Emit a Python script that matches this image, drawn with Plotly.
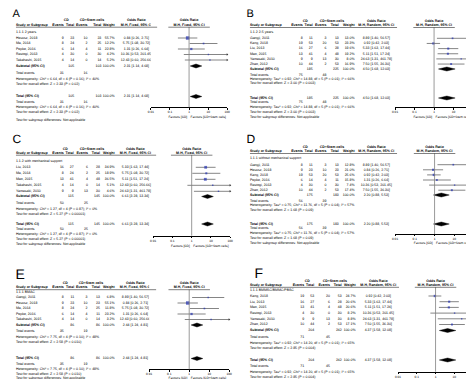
import plotly.graph_objects as go

FIG_W, FIG_H = 474, 379

# ---------------- data ----------------
# Panel A
studies_A = ["Heuvsz, 2018", "Ma, 2014", "Pepke, 2016", "Rastogi, 2013", "Takahashi, 2015"]
ev_cd_A = [9, 8, 6, 4, 4]
tot_cd_A = [23, 24, 14, 30, 14]
ev_st_A = [10, 2, 4, 0, 0]
tot_st_A = [23, 25, 11, 30, 14]
weight_A = [55.7, 12.2, 22.8, 4.2, 5.2]
or_A = [0.84, 5.75, 1.31, 10.36, 12.43]
lo_A = [0.26, 1.08, 0.26, 0.53, 0.60]
hi_A = [2.71, 30.72, 6.64, 201.45, 256.66]
pooled_A = [2.31, 1.14, 4.68]
label_A = "1.1.1 2 years"
het_A = "Heterogeneity: Chi² = 6.64, df = 4 (P = 0.16); I² = 40%"
z_A = "Test for overall effect: Z = 2.33 (P = 0.02)"

# Panel B
studies_B = ["Gangji, 2011", "Kang, 2018", "Liu, 2013", "Mao, 2015", "Yamasaki, 2010", "Zhao, 2012"]
ev_cd_B = [8, 19, 16, 13, 9, 10]
tot_cd_B = [11, 53, 27, 41, 9, 44]
ev_st_B = [3, 20, 6, 4, 13, 2]
tot_st_B = [13, 53, 28, 48, 30, 53]
weight_B = [13.0, 23.3, 19.6, 19.2, 8.0, 16.9]
or_B = [8.89, 0.92, 5.33, 5.11, 24.63, 7.50]
lo_B = [1.40, 0.42, 1.63, 1.51, 1.31, 1.55]
hi_B = [56.57, 2.03, 17.44, 17.24, 461.78, 36.30]
pooled_B = [4.50, 1.68, 12.03]
label_B = "1.1.2 2-5 years"
het_B = "Heterogeneity: Tau² = 0.92; Chi² = 14.88, df = 5 (P = 0.01); I² = 66%"
z_B = "Test for overall effect: Z = 3.00 (P = 0.003)"

# Panel C
studies_C = ["Liu, 2013", "Ma, 2014", "Mao, 2015", "Takahashi, 2015", "Yamasaki, 2010"]
ev_cd_C = [16, 8, 13, 4, 9]
tot_cd_C = [27, 24, 41, 14, 9]
ev_st_C = [6, 2, 4, 0, 13]
tot_st_C = [28, 25, 48, 14, 30]
weight_C = [34.9, 18.9, 36.5, 5.1, 4.6]
or_C = [5.33, 5.75, 5.11, 12.43, 24.63]
lo_C = [1.63, 1.08, 1.51, 0.60, 1.31]
hi_C = [17.44, 30.72, 17.24, 256.66, 461.78]
pooled_C = [6.61, 3.28, 13.34]
label_C = "1.1.2 with mechanical support"
het_C = "Heterogeneity: Chi² = 1.27, df = 4 (P = 0.87); I² = 0%"
z_C = "Test for overall effect: Z = 5.27 (P < 0.00001)"

# Panel D
studies_D = ["Gangji, 2011", "Heuvsz, 2018", "Kang, 2018", "Pepke, 2016", "Rastogi, 2013", "Zhao, 2012"]
ev_cd_D = [8, 9, 19, 6, 4, 10]
tot_cd_D = [11, 23, 53, 14, 30, 44]
ev_st_D = [3, 10, 20, 4, 0, 2]
tot_st_D = [13, 23, 53, 11, 30, 53]
weight_D = [12.8, 21.0, 25.6, 15.8, 7.4, 17.4]
or_D = [8.89, 0.84, 0.92, 1.31, 10.36, 7.50]
lo_D = [1.40, 0.26, 0.42, 0.26, 0.53, 1.55]
hi_D = [56.57, 2.71, 2.03, 6.64, 201.45, 36.30]
pooled_D = [2.20, 0.88, 5.53]
label_D = "1.1.1 without mechanical support"
het_D = "Heterogeneity: Tau² = 0.75; Chi² = 11.76, df = 5 (P = 0.04); I² = 57%"
z_D = "Test for overall effect: Z = 1.68 (P = 0.09)"

# Panel E
studies_E = ["Gangji, 2011", "Heuvsz, 2018", "Ma, 2014", "Pepke, 2016", "Takahashi, 2015"]
ev_cd_E = [8, 9, 8, 6, 4]
tot_cd_E = [11, 23, 24, 14, 14]
ev_st_E = [3, 10, 2, 4, 0]
tot_st_E = [13, 23, 25, 11, 14]
weight_E = [6.8, 55.1, 11.8, 23.2, 3.2]
or_E = [8.89, 0.84, 5.75, 1.31, 12.43]
lo_E = [1.40, 0.26, 1.08, 0.26, 0.60]
hi_E = [56.57, 2.71, 30.72, 6.64, 256.66]
pooled_E = [2.44, 1.24, 4.81]
label_E = "1.1.1 BMAC"
het_E = "Heterogeneity: Chi² = 7.75, df = 4 (P = 0.10); I² = 48%"
z_E = "Test for overall effect: Z = 2.58 (P = 0.010)"

# Panel F
studies_F = ["Kang, 2018", "Liu, 2013", "Mao, 2015", "Rastogi, 2013", "Yamasaki, 2010", "Zhao, 2012"]
ev_cd_F = [19, 16, 13, 4, 9, 10]
tot_cd_F = [53, 27, 41, 30, 9, 44]
ev_st_F = [20, 6, 4, 0, 13, 2]
tot_st_F = [53, 28, 48, 30, 30, 53]
weight_F = [24.7, 20.6, 20.6, 8.2, 8.8, 17.1]
or_F = [0.92, 5.33, 5.11, 10.36, 24.63, 7.50]
lo_F = [0.42, 1.63, 1.51, 0.53, 1.31, 1.55]
hi_F = [2.03, 17.44, 17.24, 201.45, 461.78, 36.30]
pooled_F = [4.37, 1.58, 12.08]
label_F = "1.1.1 BMMSC/BMMC/PBSC"
het_F = "Heterogeneity: Tau² = 0.92; Chi² = 14.20, df = 5 (P = 0.01); I² = 65%"
z_F = "Test for overall effect: Z = 2.85 (P = 0.004)"

tick_vals = [0.01, 0.1, 1, 10, 100]
tick_text = ["0.01", "0.1", "1", "10", "100"]
fav_left = "Favours [CD]"
fav_right = "Favours [CD+Stem cells]"

# ---------------- layout geometry (pixels inside each panel) ----------------
GEO = {
    "A": dict(ox=0, oy=0, h=126, cols=[53.5, 64, 77.5, 91.5, 105], orc=127, cd_c=56, st_c=82,
              x001=141.7, x100=219, h1=12.5, h2=16.8, ul=19.2, label=24.5, s0=30, ds=5.5,
              sub=58, tev=65.5, het=71, test=76, tot=88.5, tev2=94, het2=99.3, test2=104.3,
              sg=112.5, axis=99.3, fav=109, lfs=11, lx=1.5, lbase=8.6, model="M-H, Fixed, 95% CI"),
    "B": dict(ox=237, oy=0, h=126, cols=[58.5, 68.5, 82.5, 95, 111], orc=133, cd_c=61, st_c=88,
              x001=152, x100=231, h1=13.3, h2=17.3, ul=19.5, label=24.3, s0=30.3, ds=5.15,
              sub=61, tev=66.7, het=71, test=75.5, tot=90, tev2=94.3, het2=99.3, test2=103.7,
              sg=109, axis=99.3, fav=109, lfs=11, lx=1.5, lbase=8.6, model="M-H, Random, 95% CI"),
    "C": dict(ox=0, oy=126, h=126, cols=[53.5, 63.5, 78, 90, 105], orc=126, cd_c=55, st_c=82,
              x001=144, x100=222, h1=15, h2=19, ul=21.2, label=27, s0=33.3, ds=6,
              sub=62.5, tev=69.3, het=75, test=80, tot=90, tev2=95, het2=100, test2=104.7,
              sg=110.3, axis=101.7, fav=112.7, lfs=12, lx=1.5, lbase=9.2, model="M-H, Fixed, 95% CI"),
    "D": dict(ox=237, oy=126, h=126, cols=[58.5, 68.5, 82.5, 95, 111], orc=133, cd_c=61, st_c=88,
              x001=152, x100=232, h1=13.3, h2=17.3, ul=19.5, label=24, s0=30.7, ds=5.1,
              sub=61, tev=66.7, het=71, test=76, tot=90, tev2=94.3, het2=99.3, test2=104,
              sg=109, axis=100, fav=109, lfs=12, lx=1.5, lbase=8.8, model="M-H, Random, 95% CI"),
    "E": dict(ox=0, oy=252, h=127, cols=[53.5, 64, 77.5, 90, 105], orc=126, cd_c=55, st_c=81,
              x001=140, x100=221, h1=23, h2=27.5, ul=29.7, label=32.5, s0=37.5, ds=5.5,
              sub=65, tev=71.5, het=77, test=82, tot=98.5, tev2=104, het2=109.3, test2=114,
              sg=118.3, axis=109.3, fav=118.5, lfs=14, lx=4.5, lbase=19.3, model="M-H, Fixed, 95% CI"),
    "F": dict(ox=237, oy=252, h=127, cols=[60, 70, 86, 98, 112], orc=135, cd_c=63, st_c=91,
              x001=155, x100=231, h1=20.7, h2=25, ul=27.3, label=30.5, s0=36, ds=5.7,
              sub=70.5, tev=77.5, het=83, test=88.3, tot=100, tev2=106.3, het2=111.7, test2=116.7,
              sg=121.8, axis=111.7, fav=121, lfs=14, lx=9.5, lbase=18.3, model="M-H, Random, 95% CI"),
}

PANELS = {
    "A": (studies_A, ev_cd_A, tot_cd_A, ev_st_A, tot_st_A, weight_A, or_A, lo_A, hi_A, pooled_A, label_A, het_A, z_A),
    "B": (studies_B, ev_cd_B, tot_cd_B, ev_st_B, tot_st_B, weight_B, or_B, lo_B, hi_B, pooled_B, label_B, het_B, z_B),
    "C": (studies_C, ev_cd_C, tot_cd_C, ev_st_C, tot_st_C, weight_C, or_C, lo_C, hi_C, pooled_C, label_C, het_C, z_C),
    "D": (studies_D, ev_cd_D, tot_cd_D, ev_st_D, tot_st_D, weight_D, or_D, lo_D, hi_D, pooled_D, label_D, het_D, z_D),
    "E": (studies_E, ev_cd_E, tot_cd_E, ev_st_E, tot_st_E, weight_E, or_E, lo_E, hi_E, pooled_E, label_E, het_E, z_E),
    "F": (studies_F, ev_cd_F, tot_cd_F, ev_st_F, tot_st_F, weight_F, or_F, lo_F, hi_F, pooled_F, label_F, het_F, z_F),
}

FONT = '"Liberation Sans", Arial, sans-serif'
FS = 3.5
FS_FAV = 3.2
TXT = "#000000"
SQ = "#2230b0"
CI_C = "#333333"

fig = go.Figure()
layout = dict(width=FIG_W, height=FIG_H, autosize=False, margin=dict(l=0, r=0, t=0, b=0),
              paper_bgcolor="white", plot_bgcolor="white", showlegend=False,
              font=dict(family=FONT))
shapes = []


def fmt_ci(o, l, h):
    return f"{o:.2f} [{l:.2f}, {h:.2f}]"


def text_trace(xs, ys, ts, pos, xa, ya, font):
    return go.Scatter(x=xs, y=ys, text=ts, mode="text", textposition=pos, textfont=font,
                      xaxis=xa, yaxis=ya, hoverinfo="skip", cliponaxis=False)


for i, key in enumerate("ABCDEF"):
    g = GEO[key]
    (studies, ev_cd, tot_cd, ev_st, tot_st, weight, ors, los, his, pooled, label, het, ztxt) = PANELS[key]
    n = len(studies)
    tx = f"x{2*i+1}"
    fx = f"x{2*i+2}"
    yy = f"y{i+1}"
    tx_name = "xaxis" if i == 0 else f"xaxis{2*i+1}"
    fx_name = f"xaxis{2*i+2}"
    y_name = "yaxis" if i == 0 else f"yaxis{i+1}"
    ox, oy, ph = g["ox"], g["oy"], g["h"]
    ydom = [1 - (oy + ph) / FIG_H, 1 - oy / FIG_H]
    layout[tx_name] = dict(domain=[ox / FIG_W, (ox + 237) / FIG_W], range=[0, 237], visible=False,
                           anchor=yy, fixedrange=True)
    layout[y_name] = dict(domain=ydom, range=[ph, 0], visible=False, anchor=tx, fixedrange=True)
    layout[fx_name] = dict(domain=[(ox + g["x001"]) / FIG_W, (ox + g["x100"]) / FIG_W], type="log",
                           range=[-2, 2], anchor="free", position=1 - (oy + g["axis"]) / FIG_H,
                           showline=True, linecolor="#000000", linewidth=0.6, ticks="outside",
                           ticklen=1.5, tickwidth=0.6, tickcolor="#000000", tickvals=tick_vals,
                           ticktext=tick_text, showgrid=False, zeroline=False,
                           tickfont=dict(size=FS_FAV, color=TXT, family=FONT), fixedrange=True)

    rows = [g["s0"] + k * g["ds"] for k in range(n)]
    c_ev1, c_tot1, c_ev2, c_tot2, c_wt = g["cols"]
    sumt1, sumt2 = sum(tot_cd), sum(tot_st)
    sume1, sume2 = sum(ev_cd), sum(ev_st)

    # left aligned texts
    lx, ly, lt = [], [], []
    def L(x, y, t):
        lx.append(x); ly.append(y); lt.append(t)
    L(5, g["h2"], "<b>Study or Subgroup</b>")
    L(5, g["label"], label)
    for r, s in zip(rows, studies):
        L(5, r, s)
    L(5, g["sub"], "<b>Subtotal (95% CI)</b>")
    L(5, g["tev"], "Total events")
    L(5, g["het"], het)
    L(5, g["test"], ztxt)
    L(5, g["tot"], "<b>Total (95% CI)</b>")
    L(5, g["tev2"], "Total events")
    L(5, g["het2"], het)
    L(5, g["test2"], ztxt)
    L(5, g["sg"], "Test for subgroup differences: Not applicable")

    # right aligned texts
    rx, ry, rt = [], [], []
    def R(x, y, t):
        rx.append(x); ry.append(y); rt.append(t)
    for c, t in zip(g["cols"], ["Events", "Total", "Events", "Total", "Weight"]):
        R(c, g["h2"], f"<b>{t}</b>")
    for k in range(n):
        R(c_ev1, rows[k], str(ev_cd[k]))
        R(c_tot1, rows[k], str(tot_cd[k]))
        R(c_ev2, rows[k], str(ev_st[k]))
        R(c_tot2, rows[k], str(tot_st[k]))
        R(c_wt, rows[k], f"{weight[k]:.1f}%")
    for yrow, yev in ((g["sub"], g["tev"]), (g["tot"], g["tev2"])):
        R(c_tot1, yrow, str(sumt1))
        R(c_tot2, yrow, str(sumt2))
        R(c_wt, yrow, "100.0%")
        R(c_ev1, yev, str(sume1))
        R(c_ev2, yev, str(sume2))

    # centered texts
    cx, cy, ct = [], [], []
    def C(x, y, t):
        cx.append(x); cy.append(y); ct.append(t)
    C(g["cd_c"], g["h1"], "<b>CD</b>")
    C(g["st_c"], g["h1"], "<b>CD+Stem cells</b>")
    C(g["orc"], g["h1"], "<b>Odds Ratio</b>")
    C(g["orc"], g["h2"], f"<b>{g['model']}</b>")
    for k in range(n):
        C(g["orc"], rows[k], fmt_ci(ors[k], los[k], his[k]))
    C(g["orc"], g["sub"], fmt_ci(*pooled))
    C(g["orc"], g["tot"], fmt_ci(*pooled))

    tf = dict(size=FS, color=TXT, family=FONT)
    tf_fav = dict(size=FS_FAV, color=TXT, family=FONT)
    fig.add_trace(text_trace(lx, ly, lt, "middle right", tx, yy, tf))
    fig.add_trace(text_trace(rx, ry, rt, "middle left", tx, yy, tf))
    fig.add_trace(text_trace(cx, cy, ct, "middle center", tx, yy, tf))
    # panel letter
    fig.add_trace(text_trace([g["lx"]], [g["lbase"] - 0.25 * g["lfs"]], [key], "middle right", tx, yy,
                             dict(size=g["lfs"], color="#000000", family=FONT)))

    # forest headers and favours labels
    fig.add_trace(text_trace([1, 1], [g["h1"], g["h2"]], ["<b>Odds Ratio</b>", f"<b>{g['model']}</b>"],
                             "middle center", fx, yy, tf))
    fig.add_trace(text_trace([0.8], [g["fav"]], [fav_left], "middle left", fx, yy, tf_fav))
    fig.add_trace(text_trace([1.2], [g["fav"]], [fav_right], "middle right", fx, yy, tf_fav))

    # confidence intervals
    cix, ciy = [], []
    arx, ary = [], []
    for k in range(n):
        cix += [max(los[k], 0.01), min(his[k], 100), None]
        ciy += [rows[k], rows[k], None]
        if his[k] > 100:
            arx.append(100); ary.append(rows[k])
    fig.add_trace(go.Scatter(x=cix, y=ciy, mode="lines", line=dict(color=CI_C, width=0.6),
                             xaxis=fx, yaxis=yy, hoverinfo="skip", cliponaxis=False))
    if arx:
        fig.add_trace(go.Scatter(x=arx, y=ary, mode="markers",
                                 marker=dict(symbol="triangle-right", size=2.2, color=CI_C, line=dict(width=0)),
                                 xaxis=fx, yaxis=yy, hoverinfo="skip", cliponaxis=False))
    sizes = [max(1.4, 0.47 * w ** 0.5) for w in weight]
    fig.add_trace(go.Scatter(x=ors, y=rows, mode="markers",
                             marker=dict(symbol="square", size=sizes, color=SQ, line=dict(width=0)),
                             xaxis=fx, yaxis=yy, hoverinfo="skip", cliponaxis=False))
    # diamonds
    for yrow in (g["sub"], g["tot"]):
        o, l, h = pooled
        fig.add_trace(go.Scatter(x=[l, o, h, o, l], y=[yrow, yrow - 2, yrow, yrow + 2, yrow],
                                 mode="lines", fill="toself", fillcolor="#000000",
                                 line=dict(color="#000000", width=0.4), xaxis=fx, yaxis=yy,
                                 hoverinfo="skip"))

    # reference line at OR = 1
    shapes.append(dict(type="line", xref=fx, yref=yy, x0=1, x1=1, y0=g["ul"], y1=g["axis"],
                       line=dict(color="#808080", width=0.8)))
    # header underlines
    shapes.append(dict(type="line", xref=tx, yref=yy, x0=5, x1=g["orc"] + 21, y0=g["ul"], y1=g["ul"],
                       line=dict(color="#000000", width=0.5)))
    mid = (g["x001"] + g["x100"]) / 2
    shapes.append(dict(type="line", xref=tx, yref=yy, x0=mid - 21, x1=mid + 21, y0=g["ul"], y1=g["ul"],
                       line=dict(color="#000000", width=0.5)))

layout["shapes"] = shapes
fig.update_layout(**layout)

# tiny text: ask the browser for unhinted, fractional glyph advances
POST = ("var s=document.createElement('style');"
        "s.textContent='svg text{text-rendering:geometricPrecision;}';"
        "document.head.appendChild(s);")
fig.write_html("out.html", post_script=POST)
